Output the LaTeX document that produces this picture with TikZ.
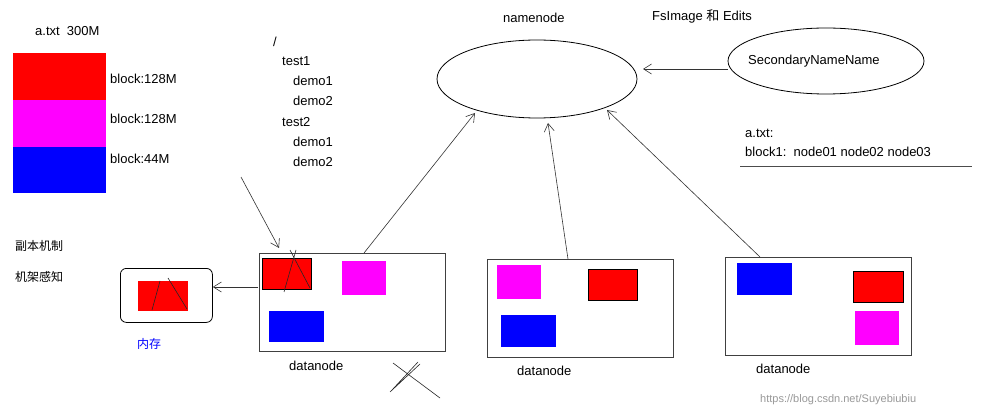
\documentclass[tikz,border=0pt]{standalone}
\usepackage{fontspec}
\setmainfont{Liberation Sans}
\newfontfamily\cjk{Noto Sans CJK SC}
\usetikzlibrary{arrows.meta,shapes.geometric}
\definecolor{mag}{RGB}{255,0,255}
\definecolor{rd}{RGB}{255,0,0}
\definecolor{bl}{RGB}{0,0,255}
\begin{document}
\begin{tikzpicture}[x=1pt,y=-1pt,
  txt/.style={anchor=west,inner sep=0pt,font=\fontsize{13}{15}\selectfont},
  blk/.style={draw=none,inner sep=0pt,anchor=north west},
  dn/.style={draw=black!75,line width=1.2pt,inner sep=0pt,anchor=north west},
  arr/.style={-{Straight Barb[length=8pt,width=10pt]},black!80,line width=0.6pt},
  ln/.style={black!85,line width=0.6pt}]
\useasboundingbox[fill=white] (0,0) rectangle (989,417);
% file blocks
\node[txt] (title) at (35,31) {a.txt\ \ 300M};
\node[blk,fill=rd,minimum width=93pt,minimum height=47pt] (b1) at (13,53) {};
\node[blk,fill=mag,minimum width=93pt,minimum height=47pt] (b2) at (13,100) {};
\node[blk,fill=bl,minimum width=93pt,minimum height=46pt] (b3) at (13,147) {};
\node[txt] (l1) at (110,79) {block:128M};
\node[txt] (l2) at (110,119) {block:128M};
\node[txt] (l3) at (110,159) {block:44M};
\node[txt,font=\cjk\fontsize{12}{14}\selectfont] (c1) at (15,246) {副本机制};
\node[txt,font=\cjk\fontsize{12}{14}\selectfont] (c2) at (15,277) {机架感知};
% memory
\node[draw,rounded corners=6pt,line width=0.8pt,minimum width=92pt,minimum height=54pt,anchor=north west] (mem) at (120,268) {};
\node[blk,fill=rd,minimum width=50pt,minimum height=30pt] (mr) at (138,281) {};
\draw[ln] (160,281) -- (152,310) (168,278) -- (187,309);
\node[txt,font=\cjk\fontsize{12}{14}\selectfont,text=bl] (mlab) at (137,344) {内存};
% tree
\node[txt] (root) at (273,42) {/};
\node[txt] (t1) at (282,61) {test1};
\node[txt] (t1a) at (293,81) {demo1};
\node[txt] (t1b) at (293,101) {demo2};
\node[txt] (t2) at (282,122) {test2};
\node[txt] (t2a) at (293,142) {demo1};
\node[txt] (t2b) at (293,162) {demo2};
% datanodes
\node[dn,minimum width=186pt,minimum height=98pt] (d1) at (259,253) {};
\node[blk,fill=rd,draw=black,minimum width=49pt,minimum height=31pt] (d1r) at (262,258) {};
\node[blk,fill=mag,minimum width=44pt,minimum height=34pt] (d1m) at (342,261) {};
\node[blk,fill=bl,minimum width=55pt,minimum height=31pt] (d1b) at (269,311) {};
\node[txt] (d1l) at (289,366) {datanode};
\node[dn,minimum width=186pt,minimum height=98pt] (d2) at (487,259) {};
\node[blk,fill=mag,minimum width=44pt,minimum height=34pt] (d2m) at (497,265) {};
\node[blk,fill=rd,draw=black,minimum width=49pt,minimum height=31pt] (d2r) at (588,269) {};
\node[blk,fill=bl,minimum width=55pt,minimum height=32pt] (d2b) at (501,315) {};
\node[txt] (d2l) at (517,371) {datanode};
\node[dn,minimum width=186pt,minimum height=98pt] (d3) at (725,257) {};
\node[blk,fill=bl,minimum width=55pt,minimum height=32pt] (d3b) at (737,263) {};
\node[blk,fill=rd,draw=black,minimum width=50pt,minimum height=31pt] (d3r) at (853,271) {};
\node[blk,fill=mag,minimum width=44pt,minimum height=34pt] (d3m) at (855,311) {};
\node[txt] (d3l) at (756,369) {datanode};
% namenode
\node[draw,ellipse,line width=0.8pt,minimum width=200pt,minimum height=78pt] (nn) at (537,79) {};
\node[txt] (nnl) at (503,18) {namenode};
\node[txt] (fs) at (652,16) {FsImage {\cjk 和} Edits};
\node[draw,ellipse,line width=0.8pt,minimum width=196pt,minimum height=66pt] (snn) at (826,61) {};
\node[txt] (snnl) at (748,61) {SecondaryNameName};
\draw[arr] (snn.west) ++(0,8) coordinate (s0) -- (643,69);
% info
\node[txt] (i1) at (745,133) {a.txt:};
\node[txt] (i2) at (745,152) {block1:\ \ node01 node02 node03};
\draw[ln,black!70] (740,166) -- (972,166);
% connectors
\coordinate (p1) at (364,253);
\draw[arr] (p1) -- (475,113);
\coordinate (p2) at (568,259);
\draw[arr] (p2) -- (548,123);
\coordinate (p3) at (760,257);
\draw[arr] (p3) -- (607,110);
\coordinate (q0) at (241,177);
\draw[arr] (q0) -- (279,248);
\coordinate (m0) at (258,287);
\draw[arr] (m0) -- (mem.east |- m0);
% crosses
\draw[ln] (290,250) -- (310,288) (296,250) -- (284,292);
\draw[ln] (393,363) -- (440,398) (420,364) -- (390,392) (418,362) -- (392,390);
\node[txt,text=black!40,font=\fontsize{11}{13}\selectfont] (wm) at (760,400) {https://blog.csdn.net/Suyebiubiu};
\end{tikzpicture}
\end{document}
